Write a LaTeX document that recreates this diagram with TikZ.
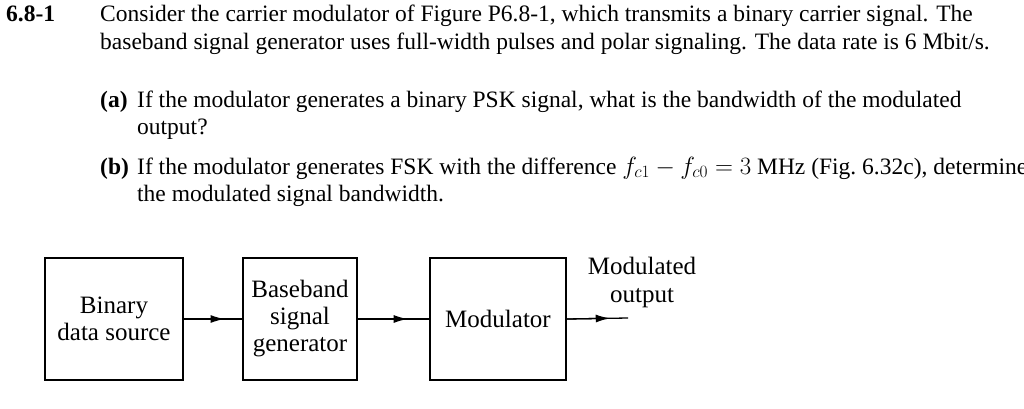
\documentclass[tikz,border=0pt]{standalone}
\usepackage{fontspec}
\setmainfont{Liberation Serif}
\usetikzlibrary{arrows.meta,calc}
\begin{document}
\begin{tikzpicture}[x=1pt,y=-1pt,
  txt/.style={anchor=base west,inner sep=0pt,font=\fontsize{23.5}{26}\selectfont},
  blk/.style={draw,line width=2.2pt,minimum height=122pt,align=center,font=\fontsize{25}{27}\selectfont},
  con/.style={line width=1.3pt,-{Latex[length=14pt,width=8pt]}}]
\useasboundingbox (0,0) rectangle (1024,409);
\node[txt] (t0) at (6,22) {\textbf{6.8-1}};
\node[txt] (t1) at (100,22) {Consider the carrier modulator of Figure P6.8-1, which transmits a binary carrier signal. The};
\node[txt] (t2) at (100,50) {baseband signal generator uses full-width pulses and polar signaling. The data rate is 6 Mbit/s.};
\node[txt] (a0) at (100,108) {\textbf{(a)}};
\node[txt] (a1) at (137,108) {If the modulator generates a binary PSK signal, what is the bandwidth of the modulated};
\node[txt] (a2) at (137,135) {output?};
\node[txt] (b0) at (100,174) {\textbf{(b)}};
\node[txt] (b1) at (137,174) {If the modulator generates FSK with the difference $f_{c1}-f_{c0}=3$ MHz (Fig.\ 6.32c), determine};
\node[txt] (b2) at (137,201) {the modulated signal bandwidth.};
\node[blk,minimum width=138pt] (s) at (114,319) {Binary\\data source};
\node[blk,minimum width=114pt] (g) at (300,319) {Baseband\\signal\\generator};
\node[blk,minimum width=136pt] (m) at (498,319) {Modulator};
\coordinate (o) at (628,318);
\draw[line width=1.3pt] (s.east) -- (g.west);
\draw[con] (s.east) -- ($(s.east)!0.7!(g.west)$);
\draw[line width=1.3pt] (g.east) -- (m.west);
\draw[con] (g.east) -- ($(g.east)!0.7!(m.west)$);
\draw[line width=1.3pt] (m.east) -- (o);
\draw[con] (m.east) -- ($(m.east)!0.7!(o)$);
\node[align=center,font=\fontsize{25}{28}\selectfont] (lbl) at (642,282) {Modulated\\output};
\end{tikzpicture}
\end{document}
